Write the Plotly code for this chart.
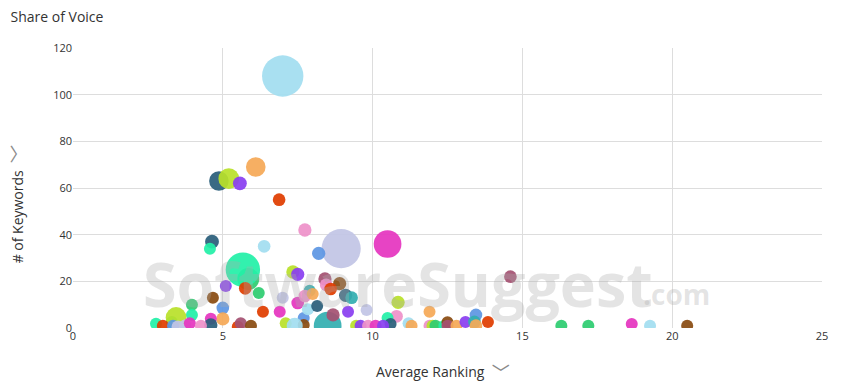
import plotly.graph_objects as go

# ---- data: (average ranking, # of keywords, share of voice) ----
avg_rank = [7.0, 8.95, 5.85, 5.67, 8.5, 10.5, 4.87, 5.2, 5.57, 6.1, 6.88, 7.74, 6.38, 8.2,
            4.64, 4.57, 7.34, 7.5, 14.6, 8.41, 8.45, 8.9, 8.6, 9.1, 9.3, 5.1, 5.75, 6.2,
            4.67, 3.97, 5.0, 3.97, 5.0, 4.6, 4.6, 3.3, 3.44, 2.77, 3.0, 3.34, 3.5, 3.75,
            3.9, 4.27, 5.5, 5.6, 5.94, 6.34, 6.9, 7.0, 7.1, 7.7, 7.7, 7.5, 7.84, 8.15,
            7.9, 7.74, 8.0, 8.68, 9.18, 9.8, 10.85, 10.8, 10.5, 10.6, 9.45, 9.6, 9.85,
            10.1, 10.35, 11.2, 11.3, 11.9, 11.9, 12.0, 12.1, 12.4, 12.5, 12.5, 12.8,
            13.1, 13.45, 13.4, 13.45, 13.85, 16.3, 17.2, 18.65, 19.26, 20.5, 7.4]
keywords = [108, 34, 21, 25, 1, 36, 63, 64, 62, 69, 55, 42, 35, 32,
            37, 34, 24, 23, 22, 21, 18.5, 19, 16.7, 14, 13, 18, 17, 15,
            13, 10, 8.6, 5.6, 3.9, 4, 1.3, 2.6, 4.5, 1.8, 1, 1, 0.5, 1.2,
            2, 1, 0.5, 2, 1, 7, 7, 13, 2, 4.3, 1.3, 10.7, 8, 9.4,
            16, 13.7, 14.6, 5.6, 7, 7.7, 11, 5, 4.3, 1.7, 1, 1, 1,
            1, 1, 2, 1, 7, 1, 1, 1, 1, 2.5, 1, 1,
            2.6, 5.6, 2.6, 1, 2.6, 1, 1, 1.7, 1, 1, 1]
voice = [10.7, 9.6, 3.0, 7.4, 4.8, 4.8, 2.4, 2.7, 1.2, 2.4, 1.0, 1.1, 1.0, 1.1,
         1.2, 0.9, 1.1, 1.1, 1.0, 1.1, 1.0, 1.1, 1.0, 1.1, 1.0, 0.9, 1.0, 0.9,
         0.9, 0.9, 1.0, 0.9, 1.1, 0.9, 1.1, 0.9, 2.7, 0.9, 0.9, 0.9, 1.0, 0.9,
         0.9, 0.9, 0.9, 0.9, 0.9, 0.9, 0.9, 0.9, 0.9, 0.9, 0.9, 1.0, 0.9, 0.9,
         0.9, 1.0, 0.9, 1.1, 0.9, 0.9, 1.1, 1.0, 0.9, 0.9, 0.9, 0.9, 0.9,
         0.9, 0.9, 0.9, 0.9, 0.9, 0.9, 0.9, 0.9, 0.9, 0.9, 0.9, 0.9,
         0.9, 1.0, 1.0, 1.0, 0.9, 0.9, 0.9, 0.9, 0.9, 0.9, 1.6]

x_ticks = [0, 5, 10, 15, 20, 25]
y_ticks = [0, 20, 40, 60, 80, 100, 120]

# ---- styles ----
palette = {
    "darkteal": "#2B5F7B", "lime": "#B9E12B", "purple": "#8A3FF0", "orange": "#F5A957",
    "red": "#E03D00", "pink": "#EE91C9", "lightblue": "#A2DEF0", "lavender": "#C2C5E5",
    "magenta": "#E536BF", "blue": "#5E97E3", "teal": "#34AEB0", "green": "#2ECC71",
    "mint": "#23F0A8", "brown": "#8A4C12", "mauve": "#A55272",
}
color_names = ["lightblue", "lavender", "green", "mint", "teal", "magenta", "darkteal", "lime",
               "purple", "orange", "red", "pink", "lightblue", "blue",
               "darkteal", "mint", "lime", "purple", "mauve", "mauve", "pink", "brown", "red",
               "darkteal", "teal", "purple", "red", "green",
               "brown", "green", "blue", "mint", "orange", "magenta", "darkteal", "green", "lime",
               "mint", "red", "blue", "lavender", "lavender",
               "magenta", "pink", "red", "mauve", "brown", "red", "magenta", "lavender", "lime",
               "blue", "brown", "magenta", "lightblue", "darkteal",
               "teal", "pink", "orange", "mauve", "purple", "lavender", "lime", "pink", "mint",
               "darkteal", "lime", "purple", "pink",
               "magenta", "purple", "lightblue", "orange", "orange", "pink", "lime", "green",
               "mint", "brown", "mauve", "orange",
               "purple", "blue", "teal", "orange", "red", "green", "green", "magenta",
               "lightblue", "brown", "lightblue"]
colors = [palette[c] for c in color_names]

fig = go.Figure()
fig.add_trace(go.Scatter(
    x=avg_rank, y=keywords, mode="markers",
    marker=dict(size=voice, sizemode="area", sizeref=1 / 80, color=colors,
                opacity=0.93, line=dict(width=0)),
    hoverinfo="x+y",
))

axis_font = dict(family="Open Sans, Noto Sans, sans-serif", size=11, color="#333333")
fig.update_layout(
    width=834, height=375,
    margin=dict(l=65, r=20, t=40, b=55, pad=0),
    paper_bgcolor="white", plot_bgcolor="white",
    showlegend=False,
    font=dict(family="Open Sans, Noto Sans, sans-serif", color="#333333"),
    title=dict(text="Share of Voice", x=0.003, xanchor="left", xref="container",
               y=0.975, yanchor="middle", pad=dict(l=0, t=0),
               font=dict(size=14, color="#333333")),
    xaxis=dict(range=[0, 25], tickvals=x_ticks, showgrid=True, gridcolor="#dddddd",
               gridwidth=1, zeroline=False, showline=False, tickfont=axis_font,
               ticks="", automargin=False),
    yaxis=dict(range=[0, 120], tickvals=y_ticks, showgrid=True, gridcolor="#dddddd",
               gridwidth=1, zeroline=False, showline=False, tickfont=axis_font,
               ticks="", automargin=False),
)

chev = ("  <sub><span style='color:#8a8a8a;font-size:18px;"
        "font-family:Noto Sans CJK SC'>﹀</span></sub>")
fig.add_annotation(text="Average Ranking" + chev, xref="paper", yref="paper",
                   x=0.494, y=-0.157, xanchor="center", yanchor="middle", showarrow=False,
                   font=dict(size=14, color="#333333"))
fig.add_annotation(text="# of Keywords" + chev, xref="paper", yref="paper",
                   x=-0.074, y=0.44, xanchor="center", yanchor="middle", showarrow=False,
                   textangle=-90, font=dict(size=14, color="#333333"))

fig.add_annotation(text="<b>SoftwareSuggest</b>", xref="paper", yref="paper",
                   x=0.434, y=0.16, xanchor="center", yanchor="middle", showarrow=False,
                   font=dict(family="Open Sans, sans-serif", size=61,
                             color="rgba(170,170,170,0.32)"))
fig.add_annotation(text="<b>.com</b>", xref="paper", yref="paper",
                   x=0.758, y=0.12, xanchor="left", yanchor="middle", showarrow=False,
                   font=dict(family="Open Sans, sans-serif", size=28,
                             color="rgba(170,170,170,0.32)"))

fig.write_html("out.html")
